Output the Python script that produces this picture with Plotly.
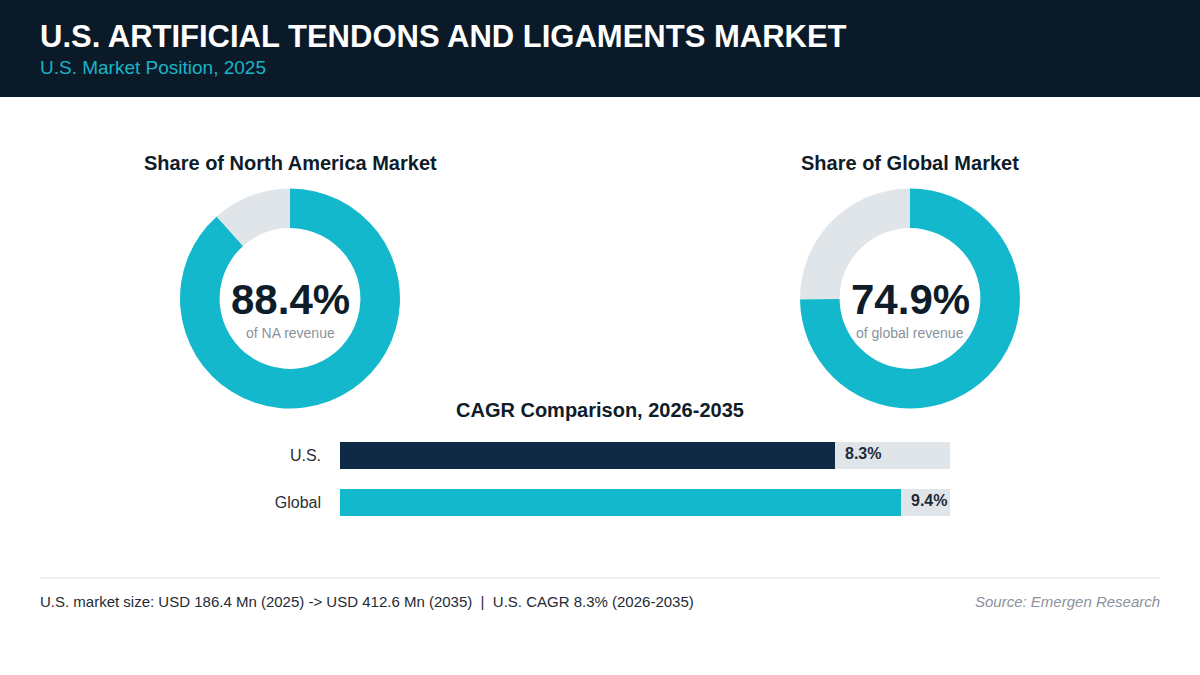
import plotly.graph_objects as go

# donut data
donut_titles = ["Share of North America Market", "Share of Global Market"]
donut_shares = [88.4, 74.9]
donut_notes = ["of NA revenue", "of global revenue"]

# CAGR bars
regions = ["U.S.", "Global"]
cagr = [8.3, 9.4]
cagr_colors = ["#0f2a44", "#14b8cc"]

footer_note = "U.S. market size: USD 186.4 Mn (2025) -> USD 412.6 Mn (2035)  |  U.S. CAGR 8.3% (2026-2035)"
source_note = "Source: Emergen Research"

TEAL = "#14b8cc"
TRACK = "#e0e5ea"
DARK = "#0f1c2a"
W, H = 1200, 675


def px_x(v):
    return v / W


def px_y(v):
    return 1 - v / H


def label(x, y, text, size, color, anchor="center", **kw):
    fig.add_annotation(x=px_x(x), y=px_y(y), xref="paper", yref="paper",
                       xanchor=anchor, yanchor="middle", text=text, showarrow=False,
                       font=dict(size=size, color=color), **kw)


fig = go.Figure()

centers = [290, 910]
for cx, share, title, note in zip(centers, donut_shares, donut_titles, donut_notes):
    fig.add_trace(go.Pie(
        values=[share, 100 - share],
        labels=["share", "rest"],
        hole=0.64,
        sort=False,
        direction="clockwise",
        rotation=0,
        marker=dict(colors=[TEAL, TRACK], line=dict(width=0)),
        textinfo="none",
        hoverinfo="skip",
        showlegend=False,
        domain=dict(x=[px_x(cx - 110), px_x(cx + 110)], y=[px_y(408.5), px_y(188.5)]),
    ))
    label(cx, 163, f"<b>{title}</b>", 20, DARK)
    label(cx, 299, f"<b>{share}%</b>", 42, DARK)
    label(cx, 333, note, 14, "#8a929c")

track_max = max(cagr) * 1.088
fig.add_trace(go.Bar(
    y=regions, x=[track_max] * len(regions), orientation="h",
    marker=dict(color=TRACK, line=dict(width=0)), width=0.57,
    hoverinfo="skip", showlegend=False,
))
fig.add_trace(go.Bar(
    y=regions, x=cagr, orientation="h",
    marker=dict(color=cagr_colors, line=dict(width=0)), width=0.57,
    hoverinfo="skip", showlegend=False,
))
for r, v in zip(regions, cagr):
    fig.add_annotation(x=v, y=r, xref="x", yref="y", xanchor="left", yanchor="middle",
                       xshift=8, yshift=2, text=f"<b>{v}%</b>", showarrow=False,
                       font=dict(size=16, color="#1f2a36"))

label(600, 410, "<b>CAGR Comparison, 2026-2035</b>", 20, DARK)

# header band
fig.add_shape(type="rect", xref="paper", yref="paper", x0=0, x1=1, y0=px_y(97), y1=1,
              fillcolor="#0a1a29", line=dict(width=0), layer="below")
label(38, 36, "<b>U.S. ARTIFICIAL TENDONS AND LIGAMENTS MARKET</b>", 31, "white", "left")
label(38, 67, "U.S. Market Position, 2025", 19, "#1ab3c6", "left")

# footer
fig.add_shape(type="line", xref="paper", yref="paper", x0=px_x(40), x1=px_x(1160),
              y0=px_y(578), y1=px_y(578), line=dict(color="#dcdfe3", width=1))
label(38, 601, footer_note, 15, "#1f2a36", "left")
label(1162, 601, f"<i>{source_note}</i>", 15, "#8a929c", "right")

fig.update_layout(
    width=W, height=H,
    margin=dict(l=0, r=0, t=0, b=0),
    paper_bgcolor="white", plot_bgcolor="white",
    font=dict(family="Liberation Sans, Arial, sans-serif"),
    barmode="overlay",
    bargap=0,
    xaxis=dict(domain=[px_x(340), px_x(950)], range=[0, track_max],
               visible=False, fixedrange=True),
    yaxis=dict(domain=[px_y(525.5), px_y(431.5)], range=[1.5, -0.5],
               type="category", showgrid=False, zeroline=False, showline=False,
               ticks="", ticklabelstandoff=18,
               tickfont=dict(size=16, color="#2a2f36")),
)

fig.write_html("out.html", config={"displayModeBar": False},
               post_script="document.body.style.margin='0';")
